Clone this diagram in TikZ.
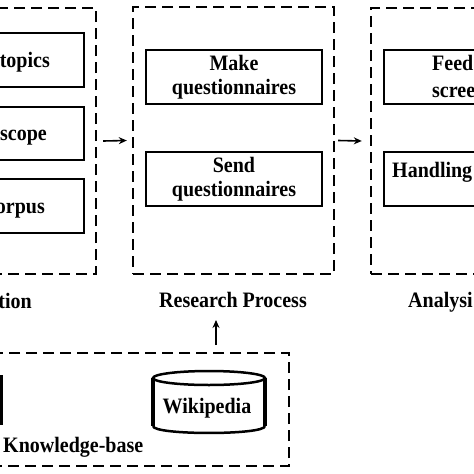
\documentclass[tikz,border=0pt]{standalone}
\usepackage{fontspec}
\setmainfont{Liberation Serif}
\usetikzlibrary{arrows.meta}
\newcommand{\vst}[1]{\scalebox{1}[1.1]{#1}}
\tikzset{
  lbl/.style={font=\bfseries\fontsize{20}{25}\selectfont, inner sep=0pt, align=center},
  solidbox/.style={draw, line width=2pt, rectangle, inner sep=0pt, lbl},
  dashbox/.style={draw, line width=2.4pt, dash pattern=on 11pt off 6pt, rectangle, inner sep=0pt},
  conn/.style={line width=1.6pt, -{Stealth[length=8pt,width=7pt]}},
}
\begin{document}
\begin{tikzpicture}[x=1pt,y=-1pt]
\useasboundingbox (0,0) rectangle (474,474);
\clip (0,0) rectangle (474,474);
% dashed group boxes
\node[dashbox, minimum width=156pt, minimum height=266pt] (L) at (18,141) {};
\node[dashbox, minimum width=201pt, minimum height=267pt] (M) at (233.5,140.5) {};
\node[dashbox, minimum width=169pt, minimum height=266pt] (R) at (455.5,141) {};
\node[dashbox, minimum width=349pt, minimum height=113pt] (B) at (114.5,409.5) {};
% left boxes
\node[solidbox, minimum width=124pt, minimum height=54pt] (L1) at (22,60) {};
\node[solidbox, minimum width=124pt, minimum height=53pt] (L2) at (22,133.5) {};
\node[solidbox, minimum width=124pt, minimum height=54pt] (L3) at (22,206) {};
\node[lbl, anchor=base east] (tL1) at (50,67) {\vst{topics}};
\node[lbl, anchor=base east] (tL2) at (47,140) {\vst{scope}};
\node[lbl, anchor=base east] (tL3) at (45,213) {\vst{orpus}};
\node[lbl, anchor=base east] (tL) at (32,308) {\vst{tion}};
% middle boxes
\node[solidbox, minimum width=176pt, minimum height=54pt] (M1) at (234,77) {\vst{Make}\\[-1pt]\vst{questionnaires}};
\node[solidbox, minimum width=176pt, minimum height=54pt] (M2) at (234,179) {\vst{Send}\\[-1pt]\vst{questionnaires}};
\node[lbl, anchor=base] (tM) at (233,307) {\vst{Research Process}};
% right boxes
\node[solidbox, minimum width=176pt, minimum height=54pt] (R1) at (472,77) {};
\node[solidbox, minimum width=176pt, minimum height=54pt] (R2) at (472,179) {};
\node[lbl, anchor=base west] (tR1a) at (432,70) {\vst{Feed}};
\node[lbl, anchor=base west] (tR1b) at (432,97) {\vst{scree}};
\node[lbl, anchor=base west] (tR2) at (392,177) {\vst{Handling}};
\node[lbl, anchor=base west] (tR) at (408,307) {\vst{Analysi}};
% bottom group
\fill (-10,375) rectangle (3,425);
\draw[line width=2.5pt] (209,378) ellipse [x radius=56, y radius=7];
\draw[line width=4pt] (153,378) -- (153,426);
\draw[line width=3.2pt] (265,378) -- (265,426);
\draw[line width=2.5pt] (153,426) .. controls (153,435.3) and (265,435.3) .. (265,426);
\node[lbl, anchor=base] (wiki) at (207,413) {\vst{Wikipedia}};
\node[lbl, anchor=base west] (kb) at (3,452) {\vst{Knowledge-base}};
% connectors
\draw[conn] ([xshift=6pt]L.east) -- ([xshift=-5pt]M.west);
\draw[conn] ([xshift=3pt]M.east) -- ([xshift=-8pt]R.west);
\coordinate (ua) at (216,345);
\coordinate (ub) at (216,320);
\draw[conn] (ua) -- (ub);
\end{tikzpicture}
\end{document}
